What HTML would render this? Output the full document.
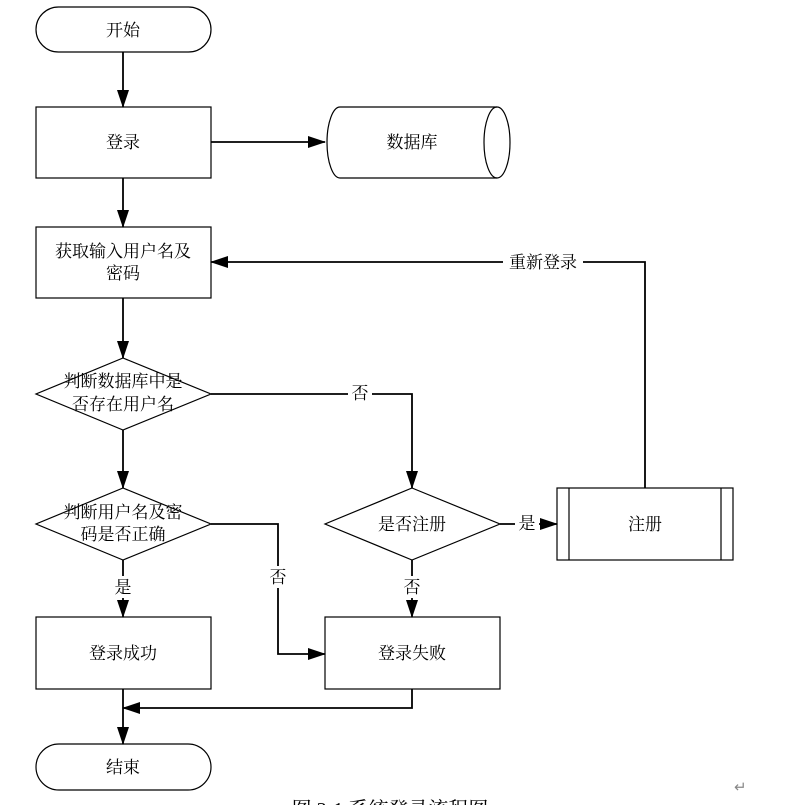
<!DOCTYPE html>
<html><head><meta charset="utf-8"><style>
body{margin:0;background:#fff;width:801px;height:805px;overflow:hidden}
text{font-family:"Liberation Serif","Noto Serif CJK SC","Noto Sans CJK SC",serif;font-size:17px;fill:#000}
</style></head><body>
<svg width="801" height="805" viewBox="0 0 801 805">
<defs><marker id="a" markerWidth="18" markerHeight="12" refX="17" refY="6" orient="auto" markerUnits="userSpaceOnUse"><path d="M0,0 L18,6 L0,12 Z" fill="#000"/></marker></defs>
<g fill="none" stroke="#000" stroke-width="1.2">
<rect x="36" y="7" width="175" height="45" rx="22.5"/>
<rect x="36" y="107" width="175" height="71"/>
<path d="M340,107 H497 A13,35.5 0 0 1 497,178 H340 A13,35.5 0 0 1 340,107 Z"/>
<path d="M497,107 A13,35.5 0 0 0 497,178"/>
<rect x="36" y="227" width="175" height="71"/>
<path d="M123,358 L211,394 L123,430 L36,394 Z"/>
<path d="M123,488 L211,524 L123,560 L36,524 Z"/>
<path d="M412,488 L500,524 L412,560 L325,524 Z"/>
<rect x="557" y="488" width="176" height="72"/>
<line x1="569" y1="488" x2="569" y2="560"/><line x1="721" y1="488" x2="721" y2="560"/>
<rect x="36" y="617" width="175" height="72"/>
<rect x="325" y="617" width="175" height="72"/>
<rect x="36" y="744" width="175" height="46" rx="23"/>
</g>
<g fill="none" stroke="#000" stroke-width="1.8" marker-end="url(#a)">
<path d="M123,52 V107"/>
<path d="M211,142 H325"/>
<path d="M123,178 V227"/>
<path d="M123,298 V358"/>
<path d="M123,430 V488"/>
<path d="M123,560 V617"/>
<path d="M123,689 V744"/>
<path d="M211,394 H412 V488"/>
<path d="M211,524 H278 V654 H325"/>
<path d="M500,524 H557"/>
<path d="M412,560 V617"/>
<path d="M645,488 V262 H211"/>
<path d="M412,689 V708 H123"/>
</g>
<g fill="#fff">
<rect x="348" y="382" width="24" height="22"/>
<rect x="266" y="566" width="24" height="22"/>
<rect x="515" y="513" width="24" height="22"/>
<rect x="400" y="576" width="24" height="22"/>
<rect x="111" y="576" width="24" height="22"/>
<rect x="503" y="251" width="80" height="22"/>
</g>
<g text-anchor="middle">
<text x="123" y="36">开始</text>
<text x="123" y="148">登录</text>
<text x="412" y="148">数据库</text>
<text x="123" y="257">获取输入用户名及</text>
<text x="123" y="279">密码</text>
<text x="123" y="387">判断数据库中是</text>
<text x="123" y="410">否存在用户名</text>
<text x="123" y="518">判断用户名及密</text>
<text x="123" y="540">码是否正确</text>
<text x="412" y="530">是否注册</text>
<text x="645" y="530">注册</text>
<text x="123" y="659">登录成功</text>
<text x="412" y="659">登录失败</text>
<text x="123" y="773">结束</text>
<text x="360" y="399">否</text>
<text x="278" y="583">否</text>
<text x="527" y="529">是</text>
<text x="412" y="593">否</text>
<text x="123" y="593">是</text>
<text x="543" y="268">重新登录</text>
<text x="390" y="816" style="font-size:20px">图 3-1 系统登录流程图</text>
</g>
<text x="734" y="792" style="font-size:15px;fill:#888">↵</text>
</svg>
</body></html>
